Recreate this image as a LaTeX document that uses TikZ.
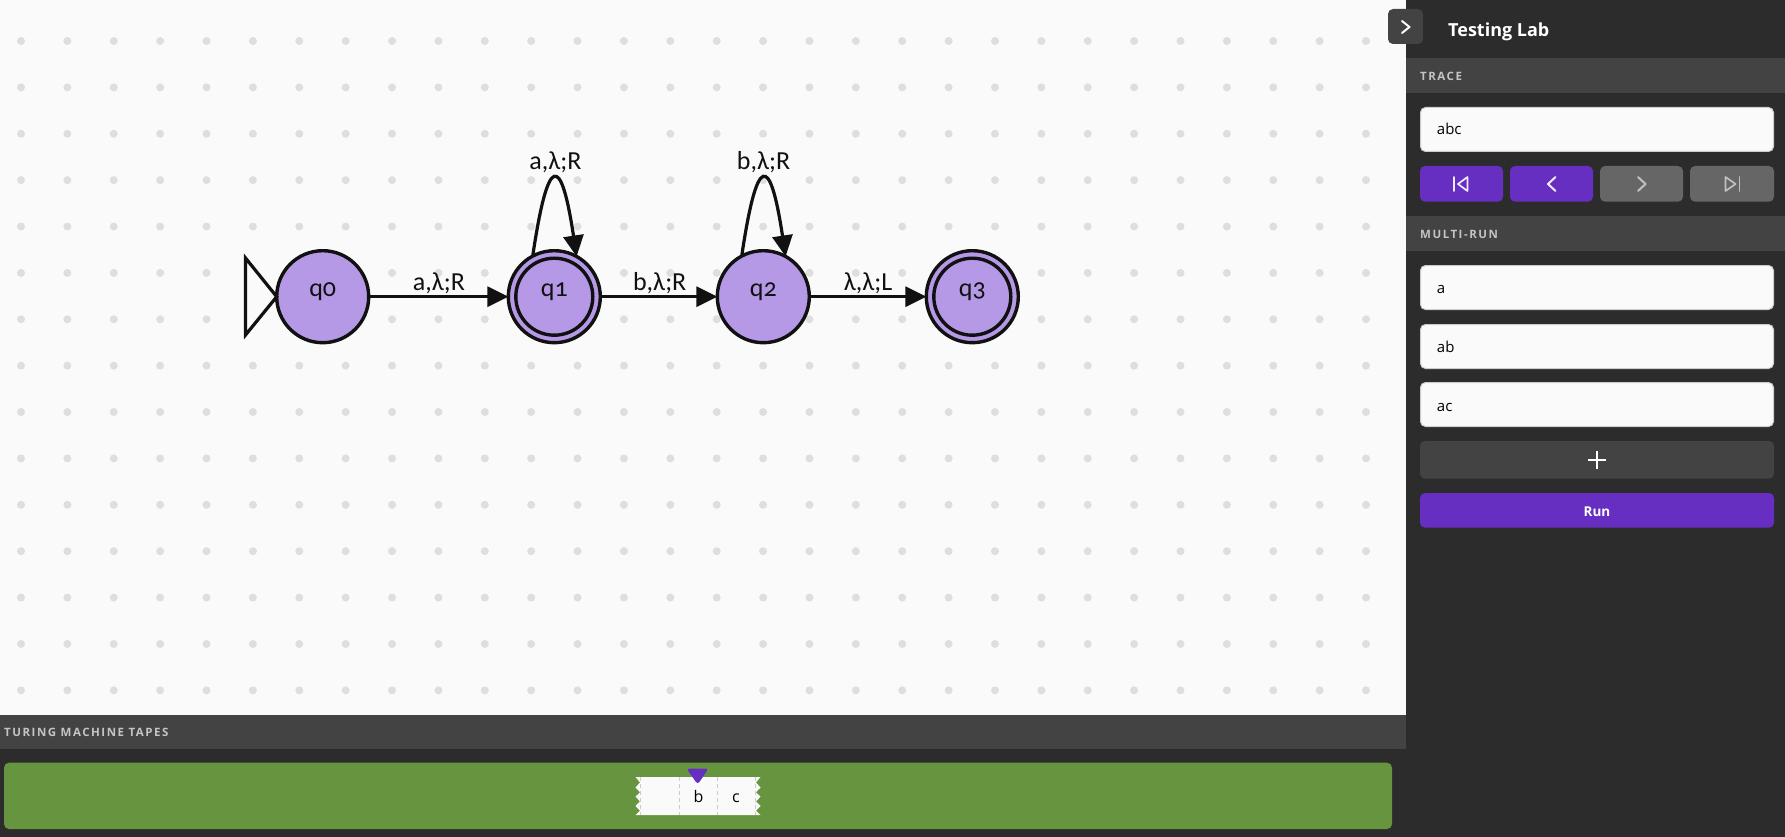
\documentclass[tikz,border=0pt]{standalone}
\usepackage{fontspec}
\usetikzlibrary{arrows.meta}
\newfontfamily\statefont[Numbers=OldStyle]{Carlito}
\newfontfamily\uifont{Open Sans}
\newfontfamily\capsfont[LetterSpace=13.2]{Open Sans}
\definecolor{canvasbg}{HTML}{FAFAFA}
\definecolor{griddot}{HTML}{DEDEDE}
\definecolor{statefill}{HTML}{B599E6}
\definecolor{inkc}{HTML}{111111}
\definecolor{paneldark}{HTML}{2C2C2C}
\definecolor{headerc}{HTML}{434343}
\definecolor{headtext}{HTML}{C4C4C4}
\definecolor{purplec}{HTML}{672FC1}
\definecolor{offbtn}{HTML}{666666}
\definecolor{officon}{HTML}{C0C0C0}
\definecolor{greenc}{HTML}{67943F}
\definecolor{inputedge}{HTML}{CCCCCC}
\definecolor{cutc}{HTML}{CCCCCC}
\tikzset{
  x=1pt,y=-1pt,
  statecircle/.style={circle,draw=inkc,fill=statefill,line width=3.4pt,minimum size=92pt,inner sep=0pt,outer sep=0pt,text height=0pt,text depth=0pt,font=\statefont\fontsize{26}{26}\selectfont,text=inkc},
  acceptring/.style={circle,draw=inkc,line width=3.4pt,minimum size=77pt,inner sep=0pt,outer sep=0pt},
  trans/.style={draw=inkc,line width=3.2pt,-{Triangle[length=21pt,width=20pt]}},
  translabel/.style={font=\statefont\fontsize{26}{26}\selectfont,text=inkc,inner sep=0pt,anchor=base},
  sectionbar/.style={fill=headerc,draw=none},
  sectiontext/.style={font=\capsfont\bfseries\fontsize{11.5}{12}\selectfont,text=headtext,inner sep=0pt,anchor=base west},
  inputbox/.style={fill=canvasbg,draw=inputedge,line width=1pt,rounded corners=5pt},
  inputtext/.style={font=\uifont\fontsize{15}{15}\selectfont,text=black,inner sep=0pt,anchor=base west},
  btn/.style={draw=none,rounded corners=5pt},
  iconline/.style={line width=1.7pt,line cap=round,line join=round},
  tapetext/.style={font=\uifont\fontsize{16}{16}\selectfont,text=black,inner sep=0pt,anchor=base},
}
\begin{document}
\begin{tikzpicture}
\useasboundingbox (0,0) rectangle (1785,837);
% canvas
\fill[canvasbg] (0,0) rectangle (1406,715);
\foreach \i in {0,...,29}{\foreach \j in {0,...,14}{
  \fill[griddot] ({21+46.38*\i},{41+46.38*\j}) circle (4);
}}
% panels
\fill[paneldark] (1406,0) rectangle (1785,837);
\fill[paneldark] (0,749) rectangle (1406,837);
\fill[sectionbar] (0,715) rectangle (1406,749);
\fill[sectionbar] (1406,58) rectangle (1785,93);
\fill[sectionbar] (1406,216) rectangle (1785,251);
% states
\coordinate (sa) at (245.5,258);
\coordinate (sb) at (245.5,335);
\node[statecircle] (q0) at (322.7,296.7) {q0};
\node[statecircle] (q1) at (554.3,296.7) {q1};
\node[acceptring] (q1r) at (q1) {};
\node[statecircle] (q2) at (763.3,296.7) {q2};
\node[statecircle] (q3) at (972.3,296.7) {q3};
\node[acceptring] (q3r) at (q3) {};
\draw[inkc,line width=3.2pt,fill=canvasbg,line join=miter] (sa) -- (q0.west) -- (sb) -- cycle;
% transitions
\draw[trans] (q0) -- (q1);
\draw[trans] (q1) -- (q2);
\draw[trans] (q2) -- (q3);
\draw[trans] (q1.118) .. controls (548,153) and (561,153) .. (q1.61);
\draw[trans] (q2.118) .. controls (757,153) and (770,153) .. (q2.61);
\node[translabel] (l01) at (439,290.5) {a,λ;R};
\node[translabel] (l12) at (659.7,290.5) {b,λ;R};
\node[translabel] (l23) at (868,290.5) {λ,λ;L};
\node[translabel] (l11) at (555.5,169.5) {a,λ;R};
\node[translabel] (l22) at (763.5,169.5) {b,λ;R};
% toggle
\fill[headerc,rounded corners=5pt] (1388,9) rectangle (1423,44);
\coordinate (ch1) at (1402,21);\coordinate (ch2) at (1409.5,27);\coordinate (ch3) at (1402,33);
\draw[white,iconline,line width=2pt] (ch1) -- (ch2) -- (ch3);
\node[font=\uifont\bfseries\fontsize{18}{18}\selectfont,text=white,inner sep=0pt,anchor=base west] (title) at (1448,36.5) {Testing Lab};
\node[sectiontext] (htrace) at (1420,80.5) {TRACE};
\node[sectiontext] (hmulti) at (1420,238) {MULTI-RUN};
\node[sectiontext] (htape) at (4,736) {TURING MACHINE TAPES};
% trace input
\draw[inputbox] (1420.5,107.5) rectangle (1773.5,151.5);
\node[inputtext] (tin) at (1436.7,135) {abc};
% buttons
\fill[purplec,btn] (1420,166) rectangle (1503,201.7);
\fill[purplec,btn] (1510,166) rectangle (1593,201.7);
\fill[offbtn,btn] (1600,166) rectangle (1683,201.7);
\fill[offbtn,btn] (1690,166) rectangle (1774,201.7);
% first
\draw[white!90!purplec,iconline] (1454,177) -- (1454,191);
\draw[white!90!purplec,iconline] (1467.5,177) -- (1458,184) -- (1467.5,191) -- cycle;
% prev
\draw[white!90!purplec,iconline,line width=2pt] (1555.5,177) -- (1548,184) -- (1555.5,191);
% next
\draw[officon,iconline,line width=2pt] (1638,177) -- (1645.5,184) -- (1638,191);
% last
\draw[officon,iconline] (1725.5,177) -- (1735.5,184) -- (1725.5,191) -- cycle;
\draw[officon,iconline] (1739.5,177) -- (1739.5,191);
% multi inputs
\draw[inputbox] (1420.5,265.5) rectangle (1773.5,309.5);
\draw[inputbox] (1420.5,324.5) rectangle (1773.5,368.5);
\draw[inputbox] (1420.5,382.5) rectangle (1773.5,426.5);
\node[inputtext] (ina) at (1436.7,293) {a};
\node[inputtext] (inb) at (1436.7,352) {ab};
\node[inputtext] (inc) at (1436.7,411) {ac};
% plus
\fill[headerc,btn] (1420,441) rectangle (1774,478.7);
\draw[white,line width=1.6pt] (1588,460) -- (1606,460) (1597,451) -- (1597,469);
% run
\fill[purplec,btn] (1420,493) rectangle (1774,527.7);
\node[font=\uifont\bfseries\fontsize{13.5}{14}\selectfont,text=white,inner sep=0pt] (runl) at (1597,512) {Run};
% tape strip
\fill[greenc,rounded corners=5pt] (4,762.7) rectangle (1392,829);
\fill[canvasbg] (640,777) -- (635.5,777) -- (640,782.5) -- (635.5,787.5) -- (640,792.3) -- (635.5,796.7) -- (640,801.3) -- (635.5,806) -- (640,810.7) -- (635.5,815) -- (760.5,815) -- (756,810.7) -- (760.5,806) -- (756,801.3) -- (760.5,796.7) -- (756,792.3) -- (760.5,787.5) -- (756,782.5) -- (760.5,777) -- cycle;
\foreach \x in {640.7,679.3,717.3,755.3}{
  \draw[cutc,line width=1pt,dash pattern=on 3.5pt off 3.5pt] (\x,777) -- (\x,815);
}
\fill[purplec,rounded corners=3pt] (686.5,768.5) -- (708.5,768.5) -- (697.7,784.5) -- cycle;
\node[tapetext] (tb) at (698.5,802.3) {b};
\node[tapetext] (tc) at (736,802.3) {c};
\end{tikzpicture}
\end{document}
